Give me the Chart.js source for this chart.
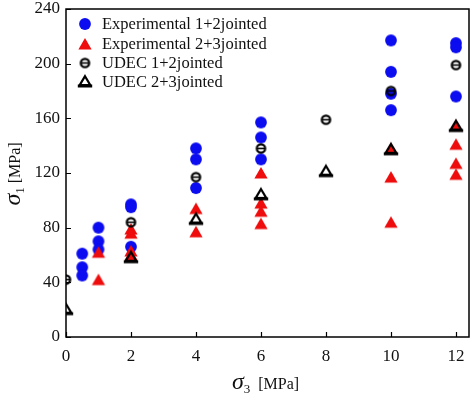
<!DOCTYPE html>
<html lang="en">
<head>
<meta charset="utf-8">
<title>sigma1 vs sigma3</title>
<script src="https://cdn.jsdelivr.net/npm/chart.js@4.4.1/dist/chart.umd.min.js"></script>
<style>
  html, body { margin: 0; padding: 0; background: #fff; }
  #wrap { width: 474px; height: 395px; }
</style>
</head>
<body>
<div id="wrap"><canvas id="c"></canvas></div>
<script>
// data
var seriesNames = ["Experimental 1+2jointed", "Experimental 2+3jointed", "UDEC 1+2jointed", "UDEC 2+3jointed"];

var exp12X = [0.5, 0.5, 0.5, 1, 1, 1, 2, 2, 2, 4, 4, 4, 6, 6, 6, 10, 10, 10, 10, 12, 12, 12];
var exp12Y = [61, 51, 45, 80, 70, 64, 97, 95, 66, 138, 130, 109, 157, 146, 130, 217, 194, 178, 166, 215, 212, 176];

var exp23X = [1, 1, 2, 2, 2, 2, 4, 4, 6, 6, 6, 6, 10, 10, 10, 12, 12, 12, 12];
var exp23Y = [62, 42, 79, 76, 63, 60, 94, 77, 120, 98, 92, 83, 138, 117, 84, 155, 141, 127, 119];

var udec12X = [0, 2, 4, 6, 8, 10, 12];
var udec12Y = [42, 84, 117, 138, 159, 180, 199];

var udec23X = [0, 2, 4, 6, 8, 10, 12];
var udec23Y = [20, 58, 86, 104, 121, 137, 154];

var xTicks = [0, 2, 4, 6, 8, 10, 12];
var yTicks = [0, 40, 80, 120, 160, 200, 240];

var SERIF = "'Liberation Serif', 'Times New Roman', serif";

function pts(xs, ys) {
  return xs.map(function (x, i) { return { x: x, y: ys[i] }; });
}

// marker images
function makeCanvas(w, h) {
  var c = document.createElement('canvas');
  c.width = w; c.height = h;
  return c;
}
function blueDot() {
  var c = makeCanvas(14, 14), g = c.getContext('2d');
  g.fillStyle = 'rgb(12,12,240)';
  g.beginPath(); g.arc(7, 7, 5.9, 0, Math.PI * 2); g.fill();
  return c;
}
function redTri() {
  var c = makeCanvas(16, 16), g = c.getContext('2d');
  g.fillStyle = 'rgb(238,12,12)';
  g.beginPath(); g.moveTo(8, 2); g.lineTo(14.6, 13.6); g.lineTo(1.4, 13.6); g.closePath(); g.fill();
  return c;
}
function blackCircle() {
  var c = makeCanvas(13, 13), g = c.getContext('2d');
  g.strokeStyle = '#000'; g.lineWidth = 2.2;
  g.beginPath(); g.arc(6.5, 6.5, 4.2, 0, Math.PI * 2); g.stroke();
  g.lineWidth = 1.6;
  g.beginPath(); g.moveTo(2.8, 6.5); g.lineTo(10.2, 6.5); g.stroke();
  return c;
}
function blackTri() {
  var c = makeCanvas(18, 18), g = c.getContext('2d');
  g.strokeStyle = '#000'; g.lineWidth = 2.2; g.lineJoin = 'miter';
  g.beginPath(); g.moveTo(9, 3.2); g.lineTo(14.2, 12); g.lineTo(3.8, 12); g.closePath(); g.stroke();
  g.fillStyle = '#000';
  g.fillRect(1.8, 11.5, 14.4, 3);
  return c;
}
var markers = [blueDot(), redTri(), blackCircle(), blackTri()];

// frame, inside ticks, axis titles, legend
var decor = {
  id: 'decor',
  afterDraw: function (chart) {
    var ctx = chart.ctx, a = chart.chartArea;
    var sx = chart.scales.x, sy = chart.scales.y;
    ctx.save();
    ctx.strokeStyle = '#000';
    ctx.lineWidth = 1.5;
    ctx.strokeRect(a.left, a.top, a.right - a.left, a.bottom - a.top);
    ctx.lineWidth = 1.2;
    ctx.beginPath();
    xTicks.forEach(function (v) {
      var px = Math.round(sx.getPixelForValue(v)) + 0.5;
      ctx.moveTo(px, a.bottom); ctx.lineTo(px, a.bottom - 5);
    });
    yTicks.forEach(function (v) {
      var py = Math.round(sy.getPixelForValue(v)) + 0.5;
      ctx.moveTo(a.left, py); ctx.lineTo(a.left + 5, py);
    });
    ctx.stroke();

    ctx.fillStyle = '#111';
    ctx.textBaseline = 'alphabetic';
    ctx.textAlign = 'left';
    function widthOf(list) {
      var w = 0;
      list.forEach(function (p) { ctx.font = p.f; w += ctx.measureText(p.t).width; });
      return w;
    }
    function drawParts(list, x, y) {
      list.forEach(function (p) {
        ctx.font = p.f;
        ctx.fillText(p.t, x, y + p.dy);
        x += ctx.measureText(p.t).width;
      });
    }

    // x title
    var parts = [
      { t: 'σ', f: 'italic 24px ' + SERIF, dy: 0 },
      { t: '3', f: '13px ' + SERIF, dy: 4 },
      { t: '  [MPa]', f: '16px ' + SERIF, dy: 0 }
    ];
    var cx = (a.left + a.right) / 2;
    drawParts(parts, cx - widthOf(parts) / 2 - 2, 389);

    // y title
    var yparts = [
      { t: 'σ', f: 'italic 24px ' + SERIF, dy: 0 },
      { t: '1', f: '13px ' + SERIF, dy: 4 },
      { t: ' [MPa]', f: '16px ' + SERIF, dy: 0 }
    ];
    ctx.save();
    ctx.translate(20, 174);
    ctx.rotate(-Math.PI / 2);
    drawParts(yparts, -widthOf(yparts) / 2, 0);
    ctx.restore();

    // legend
    var rows = [24, 44, 63, 82];
    ctx.font = '16.5px ' + SERIF;
    ctx.textBaseline = 'middle';
    seriesNames.forEach(function (name, i) {
      var m = markers[i];
      ctx.drawImage(m, 85 - m.width / 2, rows[i] - m.height / 2);
      ctx.fillText(name, 102, rows[i] + 1);
    });
    ctx.restore();
  }
};

var datasets = [
  { label: seriesNames[0], data: pts(exp12X, exp12Y), pointStyle: markers[0], order: 4 },
  { label: seriesNames[1], data: pts(exp23X, exp23Y), pointStyle: markers[1], order: 3 },
  { label: seriesNames[2], data: pts(udec12X, udec12Y), pointStyle: markers[2], order: 2 },
  { label: seriesNames[3], data: pts(udec23X, udec23Y), pointStyle: markers[3], order: 1 }
];

new Chart(document.getElementById('c'), {
  type: 'scatter',
  data: { datasets: datasets },
  options: {
    responsive: true,
    maintainAspectRatio: false,
    animation: false,
    layout: { padding: { top: 9, right: 3, left: 0, bottom: 0 } },
    plugins: { legend: { display: false }, tooltip: { enabled: false } },
    scales: {
      x: {
        type: 'linear', min: 0, max: 12.4,
        grid: { display: false, drawTicks: false },
        border: { display: false },
        ticks: { stepSize: 2, includeBounds: false, padding: 9, color: '#111', font: { family: SERIF, size: 17 } },
        afterFit: function (s) { s.height = 58; s.paddingLeft = 0; s.paddingRight = 0; }
      },
      y: {
        type: 'linear', min: 0, max: 240,
        grid: { display: false, drawTicks: false },
        border: { display: false },
        ticks: { stepSize: 40, padding: 6, color: '#111', font: { family: SERIF, size: 17 } },
        afterFit: function (s) { s.width = 66; s.paddingTop = 0; s.paddingBottom = 0; }
      }
    }
  },
  plugins: [decor]
});
</script>
</body>
</html>
